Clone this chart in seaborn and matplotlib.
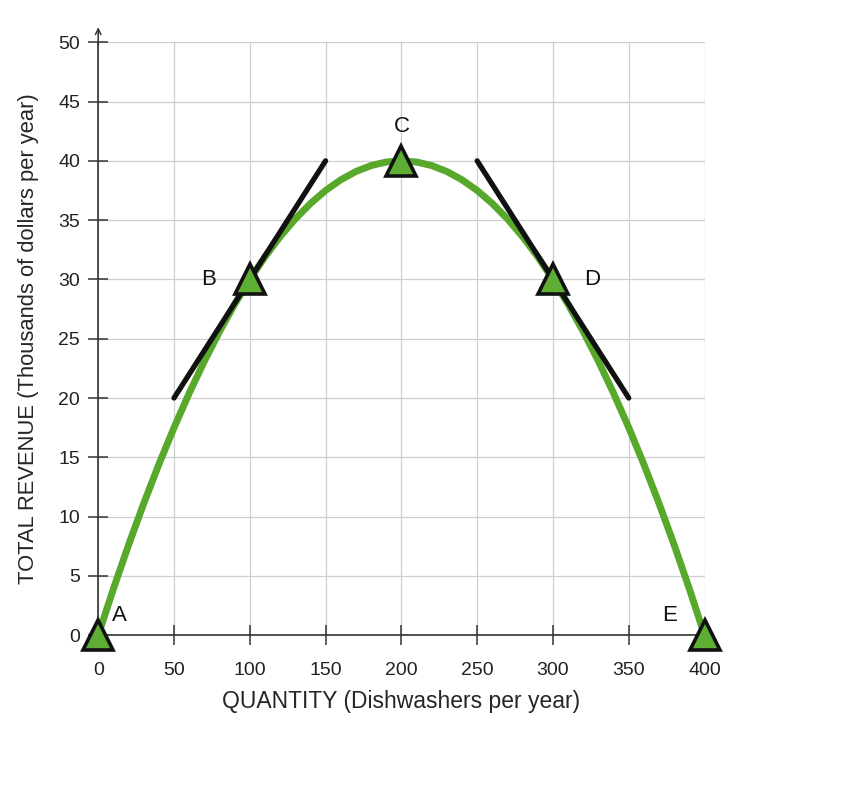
import numpy as np
import pandas as pd
import matplotlib
matplotlib.use("Agg")
import matplotlib.pyplot as plt
import seaborn as sns

sns.set_style("white")
plt.rcParams["font.family"] = ["Liberation Sans", "DejaVu Sans"]

# total revenue curve
quantity = [0, 10, 20, 30, 40, 50, 60, 70, 80, 90, 100,
            110, 120, 130, 140, 150, 160, 170, 180, 190, 200,
            210, 220, 230, 240, 250, 260, 270, 280, 290, 300,
            310, 320, 330, 340, 350, 360, 370, 380, 390, 400]
revenue = [0, 3.9, 7.6, 11.1, 14.4, 17.5, 20.4, 23.1, 25.6, 27.9, 30,
           31.9, 33.6, 35.1, 36.4, 37.5, 38.4, 39.1, 39.6, 39.9, 40,
           39.9, 39.6, 39.1, 38.4, 37.5, 36.4, 35.1, 33.6, 31.9, 30,
           27.9, 25.6, 23.1, 20.4, 17.5, 14.4, 11.1, 7.6, 3.9, 0]

# labelled points
pt_names = ["A", "B", "C", "D", "E"]
pt_q = [0, 100, 200, 300, 400]
pt_tr = [0, 30, 40, 30, 0]

# tangent lines at B and D
tanB_q = [50, 150]
tanB_tr = [20, 40]
tanD_q = [250, 350]
tanD_tr = [40, 20]

x_ticks = [0, 50, 100, 150, 200, 250, 300, 350, 400]
y_ticks = [0, 5, 10, 15, 20, 25, 30, 35, 40, 45, 50]

green = "#57a82b"

fig = plt.figure(figsize=(8.54, 7.97), dpi=100)
ax = fig.add_axes([0.115, 0.203, 0.71, 0.744])

curve = pd.DataFrame({"q": quantity, "tr": revenue})
sns.lineplot(data=curve, x="q", y="tr", color=green, lw=5, ax=ax, sort=False,
             solid_joinstyle="round", solid_capstyle="round")
sns.lineplot(x=tanB_q, y=tanB_tr, color="#111111", lw=3.8, ax=ax)
sns.lineplot(x=tanD_q, y=tanD_tr, color="#111111", lw=3.8, ax=ax)

ax.plot(pt_q, pt_tr, ls="none", marker="^", ms=21, mfc="#5fae34",
        mec="#111111", mew=2.6, clip_on=False, zorder=5)

offsets = {"A": (15, 14), "B": (-30, 0), "C": (0, 25), "D": (28, 0), "E": (-25, 14)}
for n, q, t in zip(pt_names, pt_q, pt_tr):
    dx, dy = offsets[n]
    ax.annotate(n, (q, t), xytext=(dx, dy), textcoords="offset points",
                ha="center", va="center", fontsize=16, color="#111111")

ax.set_xlim(0, 400)
ax.set_ylim(0, 50)
ax.set_xticks(x_ticks)
ax.set_yticks(y_ticks)
ax.grid(True, color="#cfcfcf", lw=0.9)
ax.set_axisbelow(True)

for s in ["top", "right"]:
    ax.spines[s].set_visible(False)
for s in ["left", "bottom"]:
    ax.spines[s].set_color("#333333")
    ax.spines[s].set_linewidth(1.2)

ax.tick_params(axis="both", direction="inout", length=14, width=1.1,
               bottom=True, left=True,
               color="#333333", labelsize=14, labelcolor="#222222")
ax.tick_params(axis="x", pad=12)
ax.tick_params(axis="y", pad=6)

# arrow on top of the vertical axis
ax.annotate("", xy=(0, 51.5), xytext=(0, 49.5),
            arrowprops=dict(arrowstyle="->", color="#333333", lw=1.1),
            annotation_clip=False)

ax.set_xlabel("QUANTITY (Dishwashers per year)", fontsize=16.5, labelpad=8)
ax.set_ylabel("TOTAL REVENUE (Thousands of dollars per year)", fontsize=15.8, labelpad=14)

fig.savefig("out.png", dpi=100, facecolor="white")
